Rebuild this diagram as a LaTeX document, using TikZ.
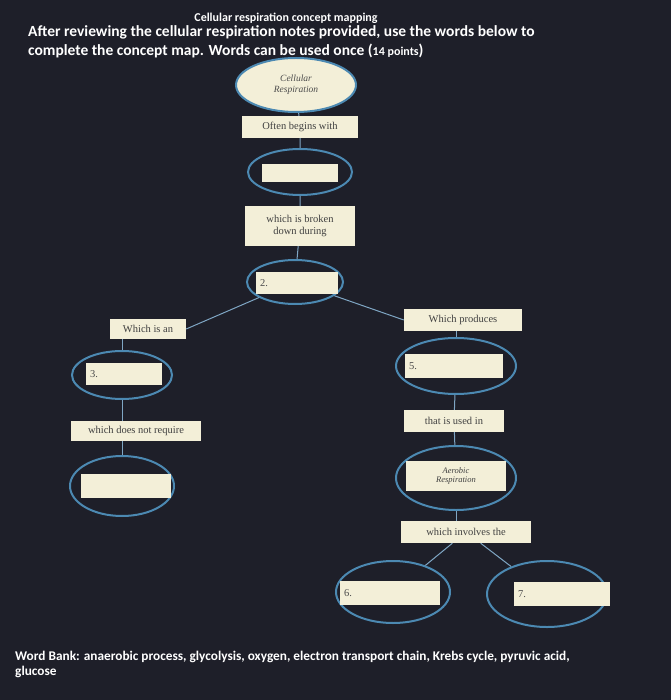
\documentclass[tikz,border=0pt]{standalone}
\usepackage{fontspec}
\setmainfont{Liberation Serif}
\newfontfamily\calfnt{Carlito}
\usetikzlibrary{shapes.geometric}
\definecolor{bg}{HTML}{1E1F29}
\definecolor{cream}{HTML}{F3EFD8}
\definecolor{ring}{HTML}{4C89B2}
\definecolor{conn}{HTML}{7FA6C4}
\tikzset{
 lab/.style={draw=none,fill=cream,font=\fontsize{10.5}{11.5}\selectfont,text=black!75,inner sep=2pt,align=center},
 ring/.style={ellipse,draw=ring,line width=2pt,inner sep=0pt},
 slot/.style={fill=cream,font=\fontsize{10.5}{11}\selectfont,text=black!70,anchor=west,inner xsep=4pt,align=left},
 conn/.style={draw=conn,line width=1pt},
 ttl/.style={text=white,font=\calfnt\bfseries,anchor=west,inner sep=0pt}
}
\begin{document}
\begin{tikzpicture}[x=1pt,y=-1pt]
\fill[bg] (0,0) rectangle (671,700);
\useasboundingbox (0,0) rectangle (671,700);
% title
\node[ttl,anchor=center,font=\calfnt\bfseries\fontsize{12}{13}\selectfont] (t0) at (286,18) {Cellular respiration concept mapping};
\node[ttl,font=\calfnt\bfseries\fontsize{15.5}{16}\selectfont] (t1) at (28,32) {After reviewing the cellular respiration notes provided, use the words below to};
\node[ttl,font=\calfnt\bfseries\fontsize{15.5}{16}\selectfont] (t2) at (28,51) {complete the concept map. Words can be used once ({\fontsize{12}{13}\selectfont 14 points})};
% nodes
\node[ring,fill=cream,minimum width=120,minimum height=54,font=\fontsize{9.5}{11}\selectfont\itshape,text=black!70,align=center] (cr) at (296,85) {Cellular\\Respiration};
\node[lab,minimum width=116,minimum height=22] (b1) at (300,127) {Often begins with};
\node[ring,minimum width=104,minimum height=46] (e1) at (300,172) {};
\node[fill=cream,minimum width=76,minimum height=18,inner sep=0pt] (r1) at (300,173) {};
\node[lab,minimum width=110,minimum height=40] (b2) at (300,226) {which is broken\\down during};
\node[ring,minimum width=96,minimum height=44] (e2) at (295,282) {};
\node[slot,text width=74,minimum height=22] (r2) at (256,283) {2.};
\node[lab,minimum width=76,minimum height=20] (b3) at (148,329) {Which is an};
\node[lab,minimum width=118,minimum height=22] (b4) at (463,320) {Which produces};
\node[ring,minimum width=100,minimum height=48] (e3) at (122,375) {};
\node[slot,text width=68,minimum height=22] (r3) at (86,374) {3.};
\node[lab,minimum width=130,minimum height=20] (b5) at (136,431) {which does not require};
\node[ring,minimum width=104,minimum height=60] (e4) at (122,486) {};
\node[fill=cream,minimum width=90,minimum height=24,inner sep=0pt] (r4) at (126,486) {};
\node[ring,minimum width=120,minimum height=56] (e5) at (456,366) {};
\node[slot,text width=90,minimum height=24] (r5) at (405,366) {5.};
\node[lab,minimum width=100,minimum height=22] (b6) at (454,421) {that is used in};
\node[ring,minimum width=120,minimum height=64] (e6) at (456,478) {};
\node[lab,minimum width=100,minimum height=30,font=\fontsize{8.5}{9.5}\selectfont\itshape] (r6) at (456,476) {Aerobic\\Respiration};
\node[lab,minimum width=130,minimum height=22] (b7) at (466,532) {which involves the};
\node[ring,minimum width=114,minimum height=62] (e7) at (393,592) {};
\node[slot,text width=92,minimum height=24] (r7) at (340,593) {6.};
\node[ring,minimum width=120,minimum height=66] (e8) at (547,594) {};
\node[slot,text width=88,minimum height=24] (r8) at (514,594) {7.};
% connectors
\draw[conn] (cr) -- (b1) -- (e1) -- (b2) -- (e2);
\draw[conn] (e2) -- (b3.east);
\draw[conn] (e2) -- (b4.west);
\draw[conn] (b3.south -| e3) -- (e3.north);
\draw[conn] (e3.south) -- (e3.south |- b5.north);
\draw[conn] (b5.south -| e4) -- (e4.north);
\draw[conn] (b4.south -| e5) -- (e5.north);
\draw[conn] (e5) -- (b6) -- (e6);
\draw[conn] (e6.south) -- (e6.south |- b7.north);
\draw[conn] (b7) -- (e7);
\draw[conn] (b7) -- (e8);
% word bank
\node[ttl,font=\calfnt\bfseries\fontsize{13.3}{15}\selectfont,align=left,anchor=north west] (wb) at (15,651) {Word Bank: anaerobic process, glycolysis, oxygen, electron transport chain, Krebs cycle, pyruvic acid,\\glucose};
\end{tikzpicture}
\end{document}
